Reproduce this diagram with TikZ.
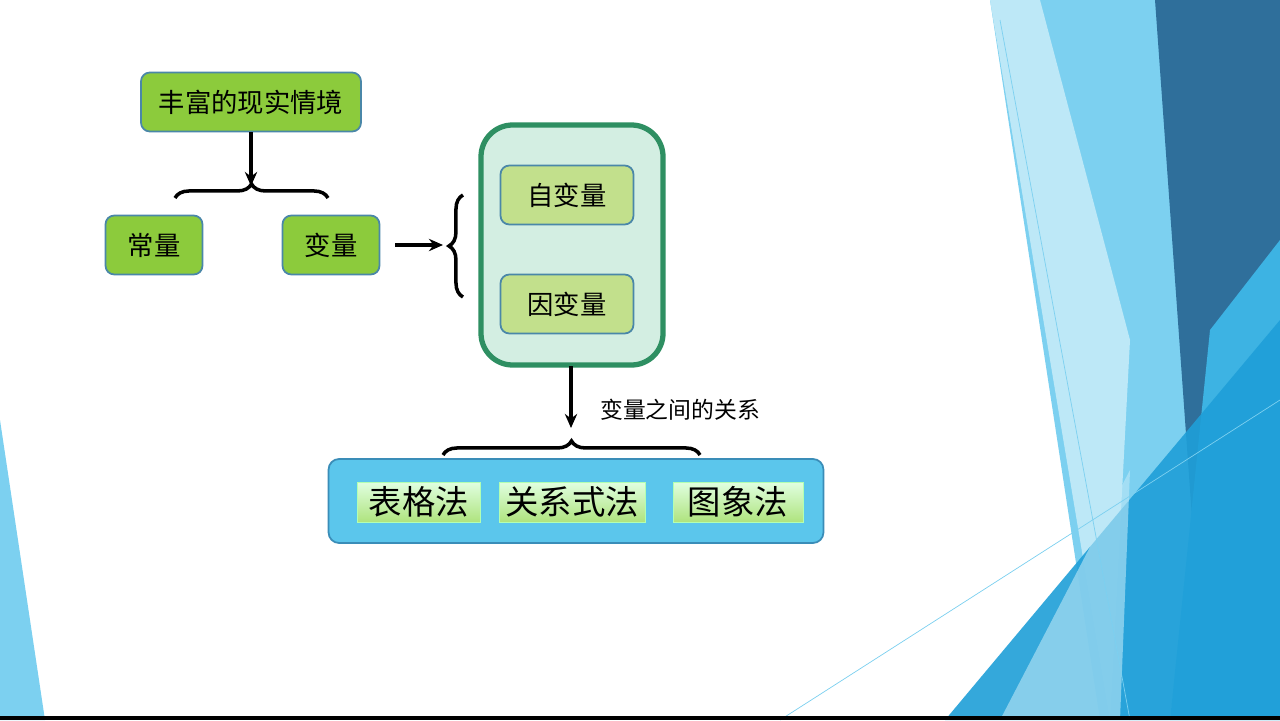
\documentclass[tikz,border=0pt]{standalone}
\usepackage{fontspec}
\newfontfamily\cjk{Noto Sans CJK SC}
\usetikzlibrary{decorations.pathreplacing,arrows.meta}
\definecolor{gfill}{HTML}{8CCB3C}
\definecolor{gline}{HTML}{4A87A8}
\definecolor{lfill}{HTML}{C2E08C}
\definecolor{mint}{HTML}{D3EEE2}
\definecolor{mline}{HTML}{2E8F62}
\definecolor{bfill}{HTML}{5BC6EC}
\definecolor{bline}{HTML}{3A8DB8}
\definecolor{bgA}{HTML}{7CD0F0}
\definecolor{bgB}{HTML}{BDE8F7}
\definecolor{bgC}{HTML}{2F6F9B}
\definecolor{bgD}{HTML}{1F9FD8}
\definecolor{bgE}{HTML}{3DB3E3}
\begin{document}
\begin{tikzpicture}[x=0.02cm,y=-0.02cm,
 gbox/.style={draw=gline,line width=1pt,fill=gfill,rounded corners=5pt,font=\cjk\fontsize{15}{15}\selectfont,minimum height=1.18cm},
 lbox/.style={draw=gline,line width=1pt,fill=lfill,rounded corners=5pt,font=\cjk\fontsize{15}{15}\selectfont,minimum width=2.66cm,minimum height=1.18cm},
 mbox/.style={draw=green!30!white,top color=green!12!white,bottom color=lfill!90!green,font=\cjk\fontsize{19}{19}\selectfont,minimum height=0.8cm,inner sep=1pt},
 arr/.style={-{Stealth[length=8pt,width=7pt]},line width=2pt},
 br/.style={decorate,decoration={brace,amplitude=8pt},line width=2pt}]
\useasboundingbox (0,0) rectangle (1280,720);
\fill[white] (0,0) rectangle (1280,720);
% background
\fill[bgA] (990,0) -- (1160,0) -- (1215,330) -- (1170,720) -- (1100,720) -- cycle;
\fill[bgB] (990,0) -- (1040,0) -- (1130,340) -- (1110,720) -- cycle;
\fill[bgC] (1155,0) -- (1280,0) -- (1280,470) -- (1195,560) -- cycle;
\fill[bgE] (1210,330) -- (1280,240) -- (1280,720) -- (1170,720) -- cycle;
\fill[bgD,opacity=.9] (945,720) -- (1280,320) -- (1280,720) -- cycle;
\fill[bgB,opacity=.6] (1000,720) -- (1130,470) -- (1120,720) -- cycle;
\fill[bgA] (0,420) -- (45,720) -- (0,720) -- cycle;
\draw[bgA] (780,720) -- (1280,400);
\draw[bgA] (1000,20) -- (1130,720);
\fill[black] (0,716) rectangle (1280,720);
% nodes
\node[gbox,minimum width=4.4cm] (top) at (251,102) {丰富的现实情境};
\node[gbox,minimum width=1.94cm] (c) at (154,245) {常量};
\node[gbox,minimum width=1.94cm] (v) at (331,245) {变量};
\draw[line width=3pt,draw=mline,fill=mint,rounded corners=18pt] (481,125) rectangle (663,365);
\coordinate (bigbot) at (571,366);
\node[lbox] (zi) at (567,195) {自变量};
\node[lbox] (yin) at (567,304) {因变量};
\draw[br] (175,198) -- (328,198);
\draw[arr] (top) -- (251,186);
\coordinate (va) at (395,245);
\draw[arr] (va) -- (443,245);
\draw[br] (463,297) -- (463,195);
\draw[arr] (bigbot) -- (571,428);
\node[font=\cjk\fontsize{13}{13}\selectfont,anchor=west] (rel) at (594,410) {变量之间的关系};
\draw[br] (443,455) -- (700,455);
\node[draw=bline,line width=1pt,fill=bfill,rounded corners=6pt,minimum width=9.9cm,minimum height=1.68cm] (bl) at (576,501) {};
\node[mbox,minimum width=2.46cm] (m1) at (419,502) {表格法};
\node[mbox,minimum width=2.92cm] (m2) at (572,502) {关系式法};
\node[mbox,minimum width=2.6cm] (m3) at (738,502) {图象法};
\end{tikzpicture}
\end{document}
